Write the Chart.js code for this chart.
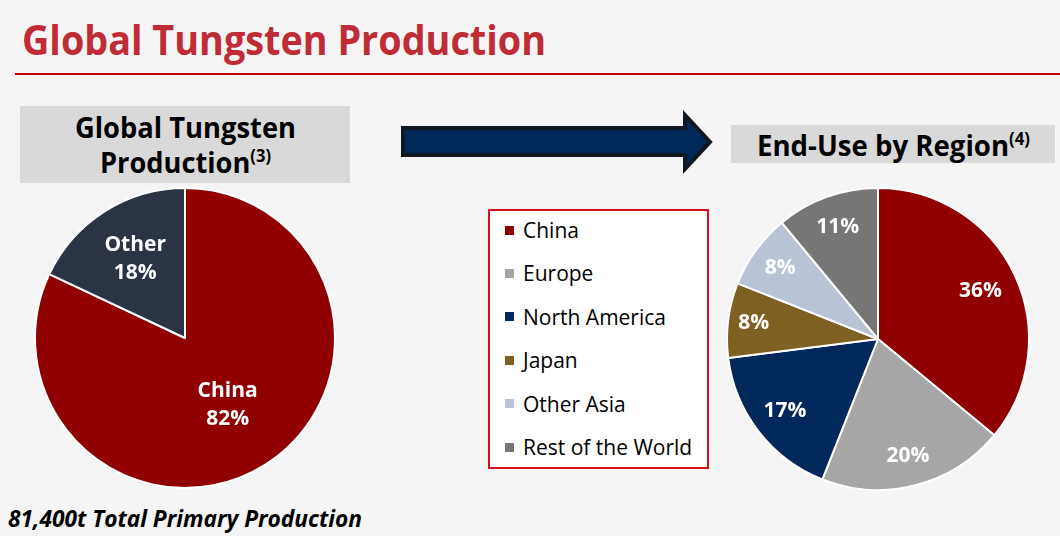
<!DOCTYPE html>
<html>
<head>
<meta charset="utf-8">
<script src="https://cdn.jsdelivr.net/npm/chart.js@4.4.1/dist/chart.umd.min.js"></script>
<style>
  html, body { margin: 0; padding: 0; }
  body { width: 1060px; height: 536px; background: #f5f5f5; position: relative; overflow: hidden; font-family: "Open Sans", sans-serif; }
  .abs { position: absolute; white-space: nowrap; line-height: 1; transform-origin: left top; }
  .title { left: 22px; top: 18px; font-size: 42px; font-weight: 700; color: #bf2c35; }
  .rule { position: absolute; left: 15px; top: 73px; width: 1045px; height: 2px; background: #c00000; }
  .box { position: absolute; background: #d9d9d9; }
  .head { font-size: 28px; font-weight: 700; color: #000; }
  .head sup { font-size: 17px; vertical-align: 0; position: relative; top: -11px; }
  .foot { left: 8px; top: 506px; font-size: 24px; font-weight: 700; font-style: italic; color: #000; }
  .legend { position: absolute; left: 488px; top: 209px; width: 217px; height: 256px; background: #fff; border: 2px solid #d0101a; }
  .legend .item { position: absolute; left: 15px; height: 20px; display: flex; align-items: center; font-size: 21px; color: #000; }
  .legend .sw { width: 9px; height: 9px; margin-right: 9px; }
  canvas { position: absolute; }
</style>
</head>
<body>

<div class="abs title" data-w="524">Global Tungsten Production</div>
<div class="rule"></div>

<div class="box" style="left:20px; top:106px; width:330px; height:77px;"></div>
<div class="abs head" style="left:75px; top:113px;" data-w="221">Global Tungsten</div>
<div class="abs head" style="left:100px; top:148px;" data-w="171">Production<sup>(3)</sup></div>

<svg style="position:absolute; left:0; top:0;" width="1060" height="536">
  <polygon points="403,128 685,128 685,115 710,142 685,169 685,155 403,155"
           fill="#00285a" stroke="#10171f" stroke-width="4" stroke-linejoin="miter"/>
</svg>

<div class="box" style="left:731px; top:125px; width:324px; height:38px;"></div>
<div class="abs head" style="left:757px; top:131px;" data-w="273">End-Use by Region<sup>(4)</sup></div>

<div class="legend" id="legend"></div>

<div class="abs foot" data-w="354">81,400t Total Primary Production</div>

<div style="position:absolute; left:25px; top:178px; width:320px; height:320px;"><canvas id="prodChart"></canvas></div>
<div style="position:absolute; left:718px; top:179px; width:320px; height:320px;"><canvas id="regionChart"></canvas></div>

<script>
// global production split
const prodLabels = ['China', 'Other'];
const prodShares = [82, 18];
const prodColors = ['#900000', '#2b3445'];

// end-use by region
const regionLabels = ['China', 'Europe', 'North America', 'Japan', 'Other Asia', 'Rest of the World'];
const regionShares = [36, 20, 17, 8, 8, 11];
const regionColors = ['#900000', '#a6a6a6', '#00285a', '#7f6023', '#b8c4d6', '#767676'];

// where each slice label sits, as a fraction of the radius
const prodLabelRadius = [0.53, 0.62];
const regionLabelRadius = [0.75, 0.8, 0.78, 0.83, 0.8, 0.79];

function sliceLabels(radii, textFor) {
    return {
        id: 'sliceLabels',
        afterDatasetsDraw(chart) {
            const ctx = chart.ctx;
            const meta = chart.getDatasetMeta(0);
            ctx.save();
            ctx.fillStyle = '#fff';
            ctx.font = 'bold 21px "Open Sans"';
            ctx.textAlign = 'center';
            ctx.textBaseline = 'middle';
            meta.data.forEach((arc, i) => {
                const p = arc.getProps(['x', 'y', 'startAngle', 'endAngle', 'outerRadius']);
                const mid = (p.startAngle + p.endAngle) / 2;
                const r = p.outerRadius * radii[i];
                const cx = p.x + Math.cos(mid) * r;
                const cy = p.y + Math.sin(mid) * r;
                const lines = textFor(i);
                lines.forEach((t, k) => ctx.fillText(t, cx, cy + (k - (lines.length - 1) / 2) * 28));
            });
            ctx.restore();
        }
    };
}

function renderPie(id, labels, values, colors, radius, labelPlugin) {
    new Chart(document.getElementById(id), {
        type: 'pie',
        data: {
            labels: labels,
            datasets: [{
                data: values,
                backgroundColor: colors,
                borderColor: '#ffffff',
                borderWidth: 2
            }]
        },
        options: {
            responsive: true,
            maintainAspectRatio: false,
            animation: false,
            events: [],
            radius: radius,
            layout: { padding: 0 },
            plugins: { legend: { display: false }, tooltip: { enabled: false } }
        },
        plugins: [labelPlugin]
    });
}

function buildLegend() {
    const el = document.getElementById('legend');
    regionLabels.forEach((name, i) => {
        const item = document.createElement('div');
        item.className = 'item';
        item.style.top = (21 - 10 - 2 + i * 43.4) + 'px';
        item.innerHTML = `<span class="sw" style="background:${regionColors[i]}"></span><span>${name}</span>`;
        el.appendChild(item);
    });
}

function fitText() {
    document.querySelectorAll('[data-w]').forEach(el => {
        const w = el.getBoundingClientRect().width;
        el.style.transform = `scaleX(${Number(el.dataset.w) / w})`;
    });
}

buildLegend();
fitText();
renderPie('prodChart', prodLabels, prodShares, prodColors, 150,
    sliceLabels(prodLabelRadius, i => [prodLabels[i], prodShares[i] + '%']));
renderPie('regionChart', regionLabels, regionShares, regionColors, 151,
    sliceLabels(regionLabelRadius, i => [regionShares[i] + '%']));
</script>
</body>
</html>
